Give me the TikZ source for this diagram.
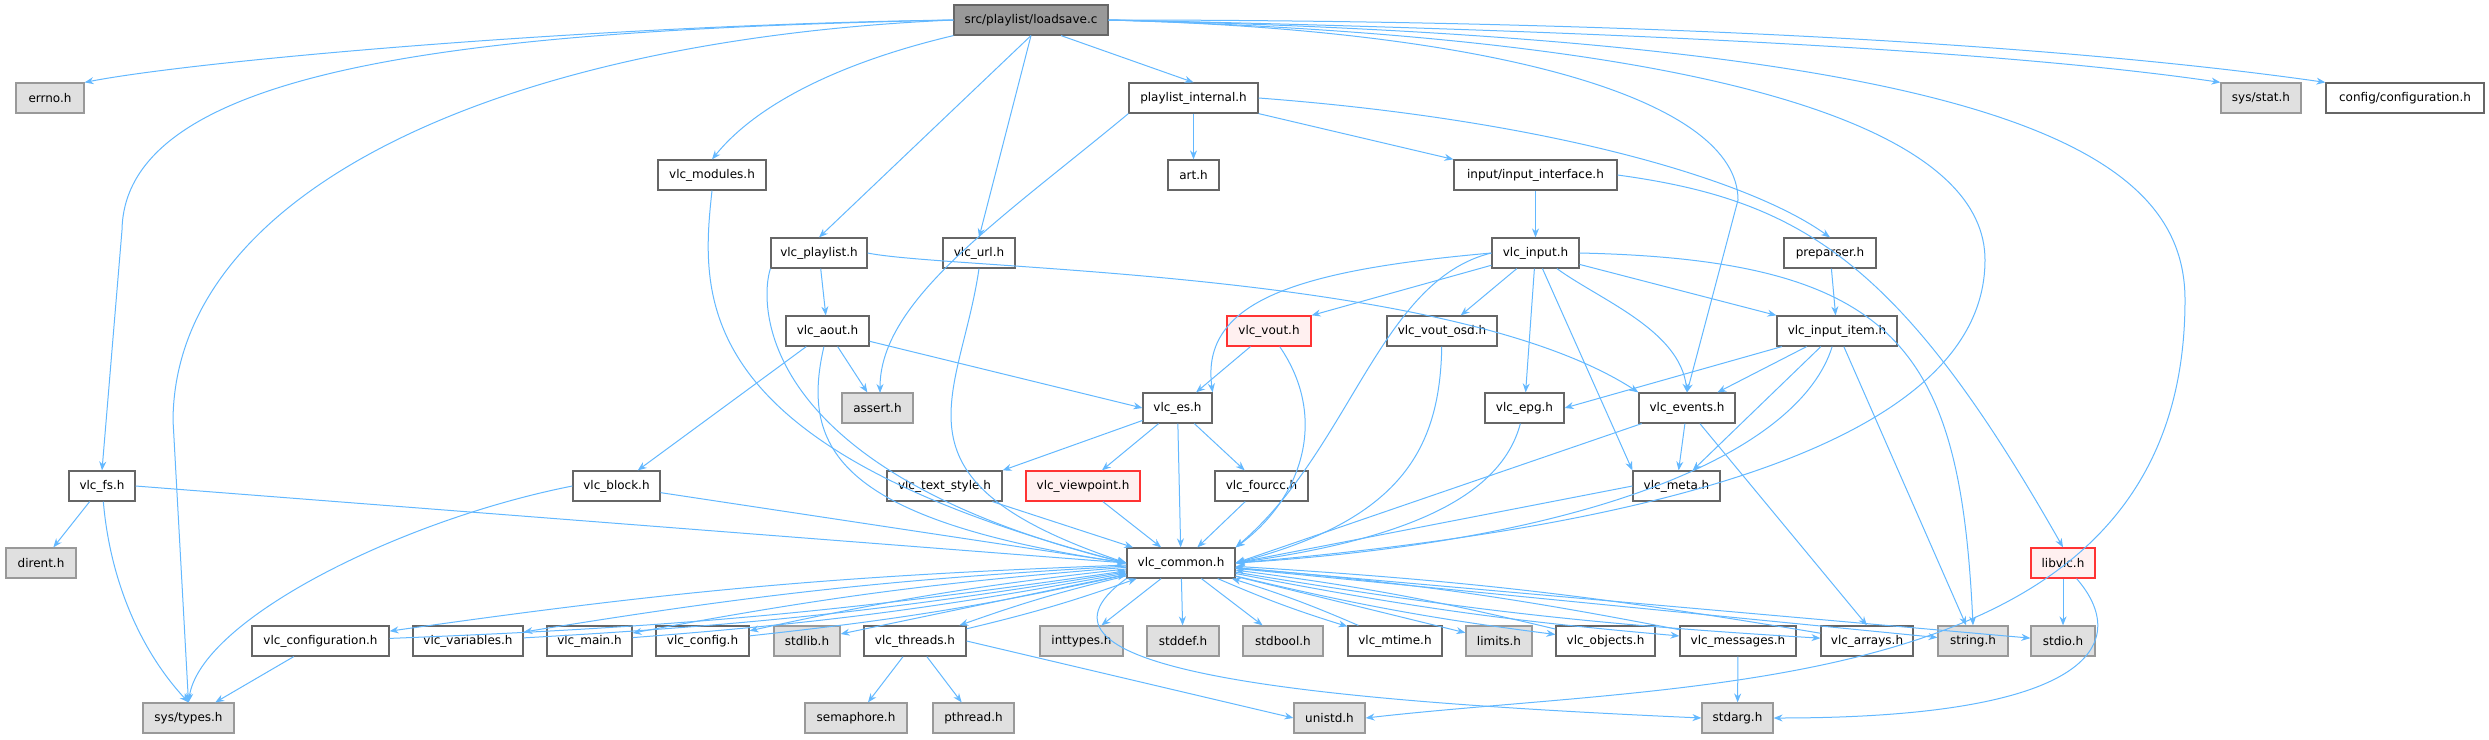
\documentclass[tikz,border=0pt]{standalone}
\usepackage{fontspec}
\setmainfont{DejaVu Sans}
\usetikzlibrary{arrows.meta}
\definecolor{edgec}{HTML}{63B8FF}
\tikzset{
  x=1pt,y=1pt,
  bx/.style={draw=black!60, fill=white, line width=1.2pt, minimum height=30, inner sep=0pt, font=\fontsize{12}{14}\selectfont},
  gr/.style={bx, fill=black!12, draw=black!40},
  rd/.style={bx, fill=red!6, draw=red!80},
  mn/.style={bx, fill=black!40, draw=black!60},
  e/.style={draw=edgec, line width=1pt, -{Stealth[length=9pt,width=7pt]}},
}
\newcommand\nd[6]{\node[#6, minimum width={#3-#2}] (#1) at ({(#2+#3)/2},-#4) {#5};}
\begin{document}
\begin{tikzpicture}
\useasboundingbox (0,0) rectangle (2489,-739);
\nd{ls}{954}{1108}{20}{src/playlist/loadsave.c}{mn}
\nd{errno}{16}{84}{98}{errno.h}{gr}
\nd{pint}{1129}{1258}{98}{playlist\_internal.h}{bx}
\nd{systat}{2221}{2301}{98}{sys/stat.h}{gr}
\nd{config}{2326}{2484}{98}{config/configuration.h}{bx}
\nd{mods}{658}{766}{175}{vlc\_modules.h}{bx}
\nd{art}{1168}{1219}{175}{art.h}{bx}
\nd{inif}{1454}{1617}{175}{input/input\_interface.h}{bx}
\nd{pl}{771}{867}{253}{vlc\_playlist.h}{bx}
\nd{url}{943}{1015}{253}{vlc\_url.h}{bx}
\nd{inp}{1492}{1579}{253}{vlc\_input.h}{bx}
\nd{prep}{1784}{1876}{253}{preparser.h}{bx}
\nd{aout}{786}{869}{331}{vlc\_aout.h}{bx}
\nd{vout}{1227}{1311}{331}{vlc\_vout.h}{rd}
\nd{osd}{1387}{1497}{331}{vlc\_vout\_osd.h}{bx}
\nd{item}{1777}{1897}{331}{vlc\_input\_item.h}{bx}
\nd{assert}{842}{913}{408}{assert.h}{gr}
\nd{es}{1143}{1212}{408}{vlc\_es.h}{bx}
\nd{epg}{1485}{1564}{408}{vlc\_epg.h}{bx}
\nd{events}{1639}{1735}{408}{vlc\_events.h}{bx}
\nd{fs}{69}{135}{486}{vlc\_fs.h}{bx}
\nd{block}{573}{660}{486}{vlc\_block.h}{bx}
\nd{ts}{887}{1002}{486}{vlc\_text\_style.h}{bx}
\nd{vp}{1026}{1140}{486}{vlc\_viewpoint.h}{rd}
\nd{fourcc}{1215}{1308}{486}{vlc\_fourcc.h}{bx}
\nd{meta}{1633}{1720}{486}{vlc\_meta.h}{bx}
\nd{dirent}{6}{76}{563}{dirent.h}{gr}
\nd{common}{1127}{1235}{563}{vlc\_common.h}{bx}
\nd{libvlc}{2031}{2095}{563}{libvlc.h}{rd}
\nd{conf}{252}{389}{641}{vlc\_configuration.h}{bx}
\nd{vars}{413}{523}{641}{vlc\_variables.h}{bx}
\nd{main}{547}{632}{641}{vlc\_main.h}{bx}
\nd{cfg}{656}{749}{641}{vlc\_config.h}{bx}
\nd{stdlib}{774}{840}{641}{stdlib.h}{gr}
\nd{thr}{864}{966}{641}{vlc\_threads.h}{bx}
\nd{inttypes}{1040}{1123}{641}{inttypes.h}{gr}
\nd{stddef}{1147}{1219}{641}{stddef.h}{gr}
\nd{stdbool}{1243}{1323}{641}{stdbool.h}{gr}
\nd{mtime}{1348}{1442}{641}{vlc\_mtime.h}{bx}
\nd{limits}{1466}{1532}{641}{limits.h}{gr}
\nd{objects}{1556}{1655}{641}{vlc\_objects.h}{bx}
\nd{msgs}{1680}{1796}{641}{vlc\_messages.h}{bx}
\nd{arrays}{1821}{1913}{641}{vlc\_arrays.h}{bx}
\nd{string}{1938}{2008}{641}{string.h}{gr}
\nd{stdio}{2031}{2095}{641}{stdio.h}{gr}
\nd{systypes}{143}{234}{718}{sys/types.h}{gr}
\nd{sema}{805}{907}{718}{semaphore.h}{gr}
\nd{pthr}{933}{1014}{718}{pthread.h}{gr}
\nd{unistd}{1294}{1365}{718}{unistd.h}{gr}
\nd{stdarg}{1702}{1773}{718}{stdarg.h}{gr}

% loadsave.c
\draw[e] (ls.west) .. controls (600,-25) and (200,-60) .. (errno.north east);
\draw[e] (ls.west) .. controls (500,-30) and (125,-60) .. (122,-230) -- (fs.north);
\draw[e] (ls.west) .. controls (500,-40) and (175,-190) .. (173,-420) -- (systypes.north);
\draw[e] (ls.south west) .. controls (850,-60) and (760,-100) .. (mods.north);
\draw[e] (ls.south) -- (pl.north);
\draw[e] (ls.south) -- (url.north);
\draw[e] (ls.south) ++(30,0) -- (pint.north);
\draw[e] (ls.east) .. controls (1500,-30) and (1738,-100) .. (1738,-200) -- (events.north);
\draw[e] (ls.east) .. controls (1800,-40) and (1985,-150) .. (1985,-260) .. controls (1985,-480) and (1500,-540) .. (common.east);
\draw[e] (ls.east) .. controls (2000,-40) and (2185,-150) .. (2185,-300) .. controls (2185,-700) and (1700,-680) .. (unistd.east);
\draw[e] (ls.east) .. controls (1600,-30) and (2000,-50) .. (systat.north west);
\draw[e] (ls.east) .. controls (1700,-20) and (2100,-50) .. (config.north west);
% playlist_internal
\draw[e] (pint.south west) .. controls (1000,-220) and (880,-300) .. (880,-393);
\draw[e] (pint) -- (art);
\draw[e] (pint.south east) -- (inif.north west);
\draw[e] (pint.east) .. controls (1550,-120) and (1750,-180) .. (prep.north);
% middle
\draw[e] (mods.south) .. controls (700,-300) and (690,-450) .. (common.west);
\draw[e] (pl) -- (aout);
\draw[e] (pl.south west) .. controls (760,-300) and (750,-470) .. (common.west);
\draw[e] (pl.east) .. controls (950,-270) and (1450,-270) .. (events.north west);
\draw[e] (url.south) .. controls (960,-400) and (880,-480) .. (common.west);
\draw[e] (inif) -- (inp);
\draw[e] (inif.east) .. controls (1800,-200) and (1900,-260) .. (libvlc.north);
\draw[e] (prep) -- (item);
\draw[e] (inp.west) .. controls (1300,-270) and (1200,-300) .. (es.north east);
\draw[e] (inp) -- (vout.north east);
\draw[e] (inp) -- (osd);
\draw[e] (inp.west) .. controls (1380,-280) and (1350,-450) .. (common.north east);
\draw[e] (inp) -- (epg);
\draw[e] (inp) -- (meta.north west);
\draw[e] (inp) .. controls (1600,-300) and (1680,-330) .. (events.north);
\draw[e] (inp) -- (item.north west);
\draw[e] (inp.east) .. controls (1900,-260) and (1960,-350) .. (string.north);
\draw[e] (aout) -- (assert);
\draw[e] (aout) -- (es.west);
\draw[e] (aout) -- (block);
\draw[e] (aout) .. controls (800,-450) and (840,-520) .. (common.west);
\draw[e] (vout) -- (es);
\draw[e] (vout) .. controls (1330,-420) and (1300,-500) .. (common.north east);
\draw[e] (osd) .. controls (1440,-450) and (1400,-520) .. (common.east);
\draw[e] (item) -- (epg.east);
\draw[e] (item) -- (events);
\draw[e] (item) -- (meta);
\draw[e] (item) .. controls (1800,-450) and (1600,-540) .. (common.east);
\draw[e] (item) -- (string);
\draw[e] (es) -- (ts.north east);
\draw[e] (es) -- (vp);
\draw[e] (es) -- (fourcc);
\draw[e] (es) -- (common);
\draw[e] (epg) .. controls (1500,-500) and (1400,-540) .. (common.east);
\draw[e] (events) -- (meta);
\draw[e] (events) -- (common.east);
\draw[e] (events) -- (arrays.north);
\draw[e] (fs) -- (dirent);
\draw[e] (fs) .. controls (110,-580) and (140,-650) .. (systypes.north);
\draw[e] (fs.east) -- (common.west);
\draw[e] (block.west) .. controls (400,-520) and (200,-620) .. (systypes.north);
\draw[e] (block) -- (common.west);
\draw[e] (ts) -- (common);
\draw[e] (vp) -- (common);
\draw[e] (fourcc) -- (common);
\draw[e] (meta.west) -- (common.east);
\draw[e] (libvlc) -- (stdio);
\draw[e] (libvlc) .. controls (2130,-640) and (2100,-718) .. (stdarg.east);
% vlc_common out
\foreach \t in {conf,vars,main,cfg,thr,mtime,objects,msgs,arrays}{
  \draw[e] (common) to[bend right=3] (\t);
  \draw[e] (\t) to[bend right=3] (common);
}
\foreach \t in {stdlib,inttypes,stddef,stdbool,limits,string,stdio}{
  \draw[e] (common) -- (\t);
}
\draw[e] (common.south west) .. controls (1000,-670) and (1300,-700) .. (stdarg.west);
\draw[e] (conf) -- (systypes);
\draw[e] (thr) -- (sema);
\draw[e] (thr) -- (pthr);
\draw[e] (thr.east) -- (unistd.west);
\draw[e] (msgs) -- (stdarg);
\end{tikzpicture}
\end{document}
